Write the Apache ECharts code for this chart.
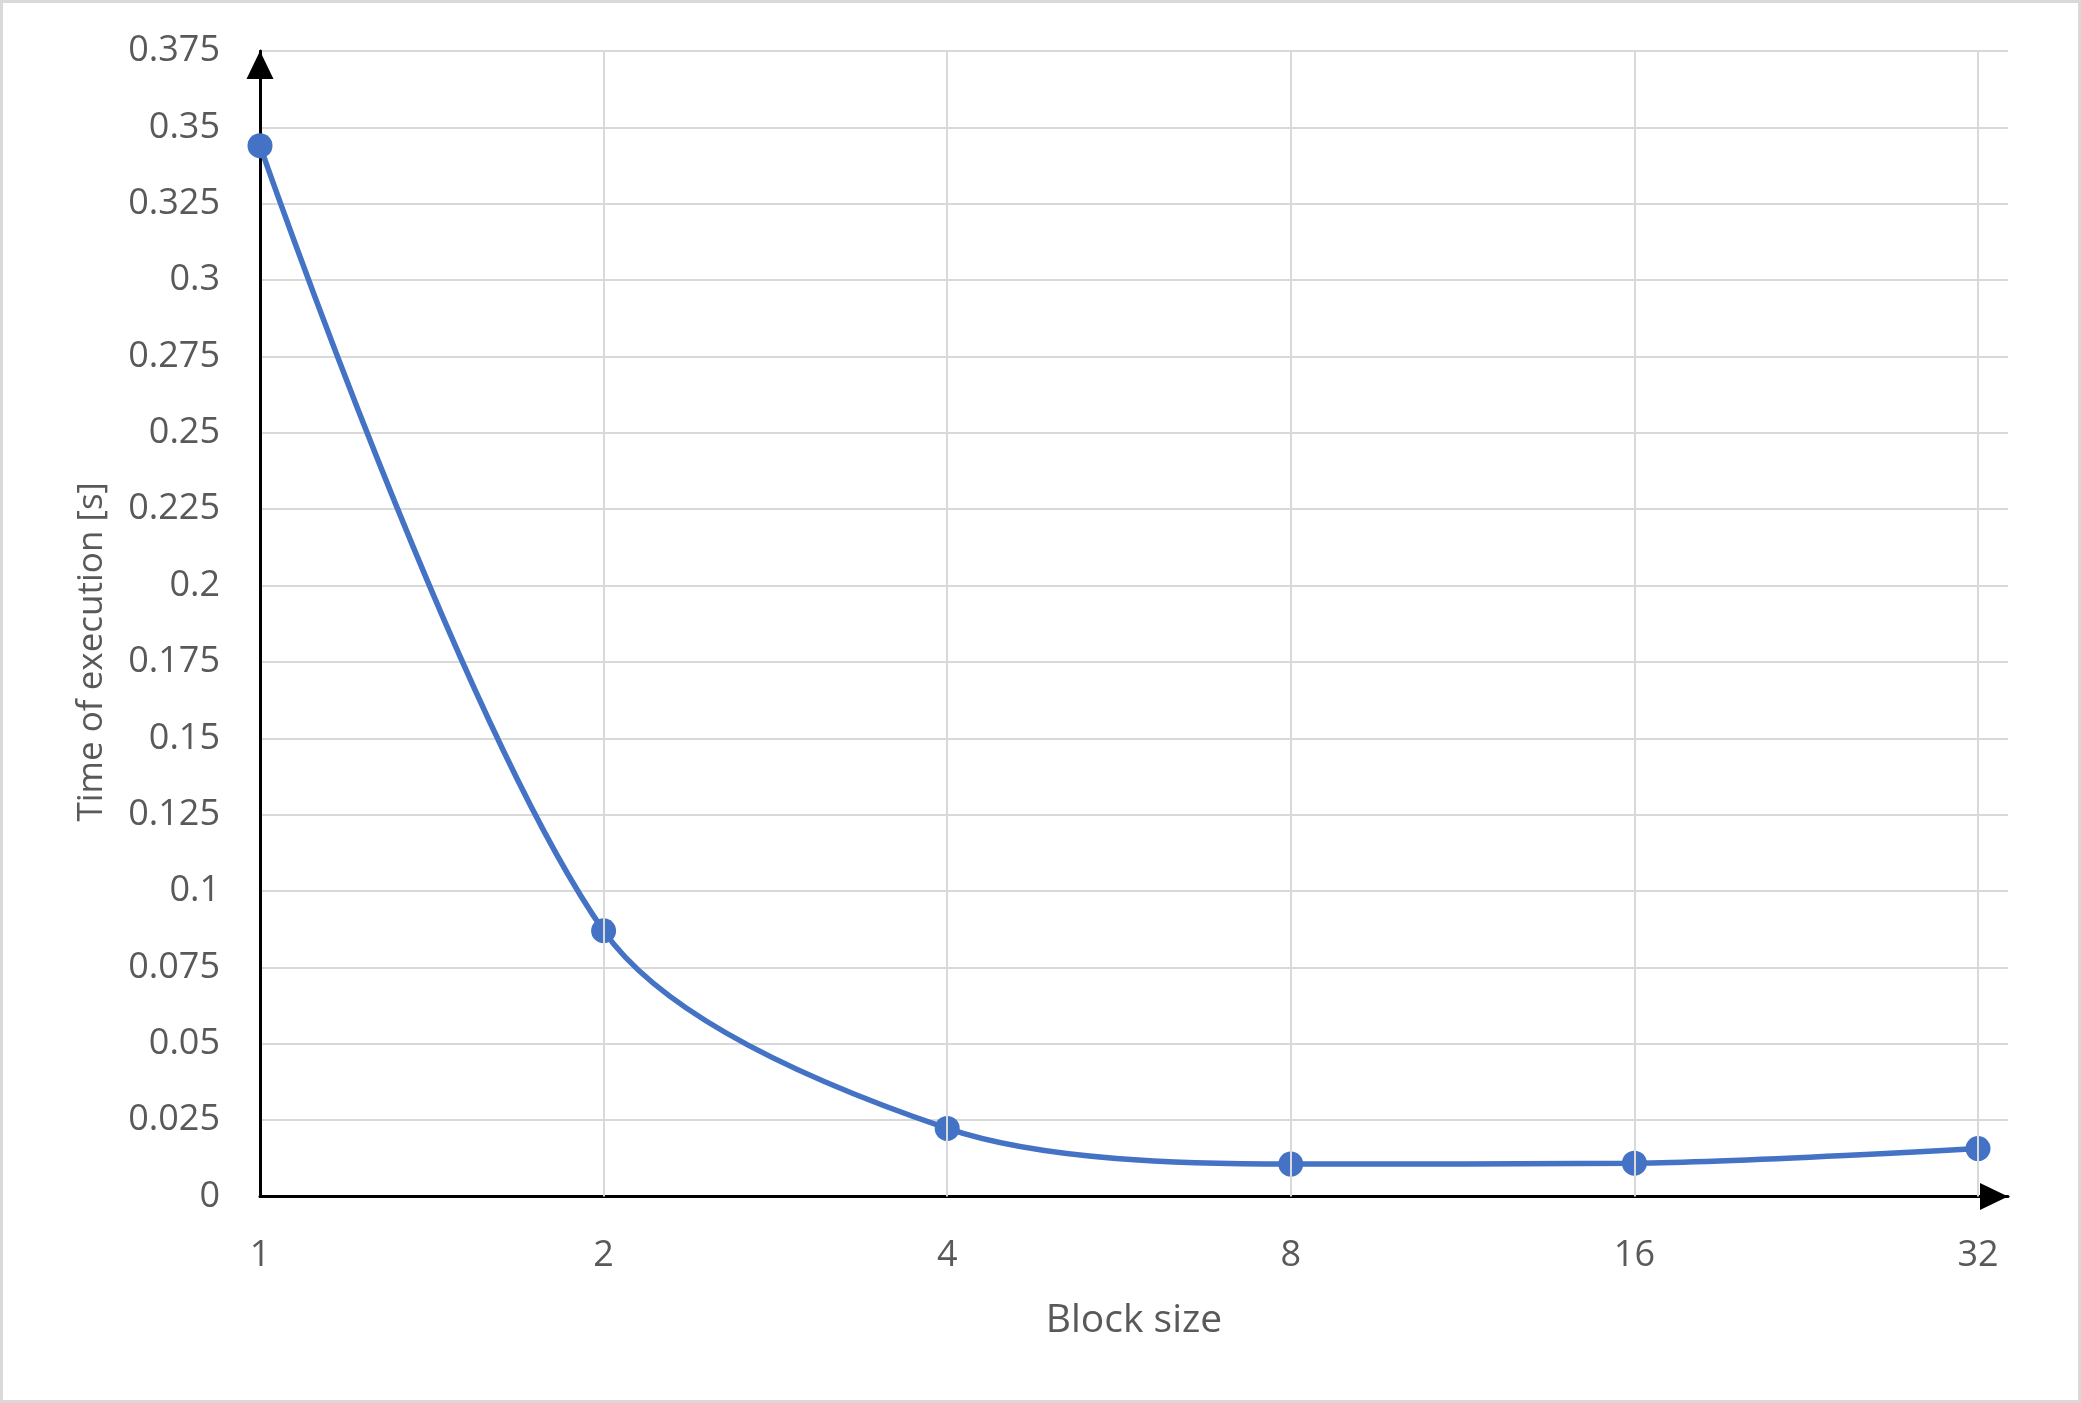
<!DOCTYPE html>
<html>
<head>
<meta charset="utf-8">
<script src="https://cdn.jsdelivr.net/npm/echarts@6/dist/echarts.min.js"></script>
<style>
  html, body { margin: 0; padding: 0; background: #fff; }
  #chart { position: absolute; left: 0; top: 0; width: 2081px; height: 1403px; }
  #frame { position: absolute; left: 0; top: 0; width: 2081px; height: 1403px; box-sizing: border-box; border: 3px solid #d9d9d9; pointer-events: none; }
</style>
</head>
<body>
<div id="chart"></div>
<div id="frame"></div>
<script>
// ---- data ----
const categories = ['1', '2', '4', '8', '16', '32'];
const times = [0.344, 0.087, 0.0223, 0.0106, 0.0109, 0.0157];
const yTicks = { min: 0, max: 0.375, step: 0.025 };
const xTitle = 'Block size';
const yTitle = 'Time of execution [s]';

const seriesData = categories.map((c, i) => [i, times[i]]);
const gridMarks = categories.map((c, i) => ({ xAxis: i })).slice(1);

const chart = echarts.init(document.getElementById('chart'), null, { renderer: 'canvas' });
const labelColor = '#595959';
const gridColor = '#d9d9d9';
const font = '"Open Sans", "Liberation Sans", sans-serif';

chart.setOption({
  animation: false,
  backgroundColor: '#ffffff',
  grid: { left: 260, right: 73, top: 51, bottom: 206.5, containLabel: false },
  xAxis: {
    type: 'value',
    min: 0,
    max: 5.0873,
    interval: 1,
    name: xTitle,
    nameLocation: 'middle',
    nameGap: 105,
    nameTextStyle: { fontFamily: font, fontSize: 39, color: labelColor },
    axisLine: {
      show: true, onZero: false,
      lineStyle: { color: '#000000', width: 3 },
      symbol: ['none', 'triangle'],
      symbolSize: [27, 28],
      symbolOffset: [0, -14]
    },
    axisTick: { show: false },
    splitLine: { show: false },
    axisLabel: {
      fontFamily: font, fontSize: 36, color: labelColor, margin: 41,
      showMaxLabel: false,
      formatter: function (v) {
        const i = Math.round(v);
        return Math.abs(v - i) < 1e-6 && categories[i] !== undefined ? categories[i] : '';
      }
    }
  },
  yAxis: {
    type: 'value',
    min: yTicks.min,
    max: yTicks.max,
    interval: yTicks.step,
    name: yTitle,
    nameLocation: 'middle',
    nameGap: 150,
    nameTextStyle: { fontFamily: font, fontSize: 35, color: labelColor, padding: [0, 56, 0, 0] },
    axisLine: {
      show: true,
      lineStyle: { color: '#000000', width: 3 },
      symbol: ['none', 'triangle'],
      symbolSize: [27, 28],
      symbolOffset: [0, -14]
    },
    axisTick: { show: false },
    splitLine: { show: true, lineStyle: { color: gridColor, width: 2 } },
    axisLabel: { fontFamily: font, fontSize: 36, color: labelColor, margin: 40, padding: [6, 0, 0, 0] }
  },
  series: [
    {
      type: 'line',
      data: [],
      z: 1,
      silent: true,
      markLine: {
        silent: true,
        symbol: 'none',
        label: { show: false },
        lineStyle: { color: gridColor, width: 2, type: 'solid' },
        data: gridMarks
      }
    },
    {
      type: 'line',
      data: seriesData,
      smooth: 0.3,
      z: 3,
      symbol: 'circle',
      symbolSize: 25,
      lineStyle: { color: '#4472C4', width: 5.5 },
      itemStyle: { color: '#4472C4' }
    }
  ]
});
</script>
</body>
</html>
